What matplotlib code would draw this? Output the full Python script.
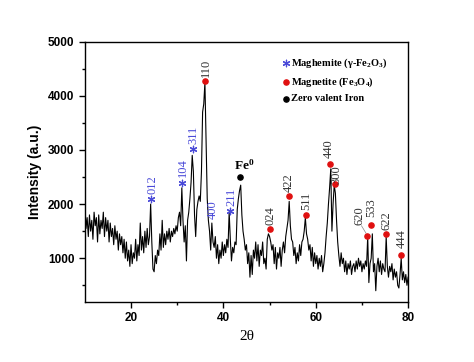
import matplotlib.pyplot as plt
import numpy as np

plt.rcParams['mathtext.fontset'] = 'custom'
plt.rcParams['mathtext.rm'] = 'Liberation Serif'
plt.rcParams['mathtext.bf'] = 'Liberation Serif:bold'
plt.rcParams['mathtext.default'] = 'bf'

# XRD pattern, 2theta from 10 to 80 in 0.25 steps
two_theta = np.arange(10, 80.01, 0.25)
intensity = [
    2050, 1550, 1750, 1400,  # 10
    1800, 1500, 1700, 1350,  # 11
    1850, 1600, 1750, 1300,  # 12
    1800, 1450, 1700, 1550,  # 13
    1850, 1400, 1750, 1500,  # 14
    1700, 1300, 1650, 1400,  # 15
    1550, 1250, 1600, 1350,  # 16
    1500, 1150, 1450, 1250,  # 17
    1400, 1100, 1350, 1000,  # 18
    1300, 950, 1150, 850,    # 19
    1250, 900, 1100, 1000,   # 20
    1350, 950, 1250, 1050,   # 21
    1650, 1150, 1400, 1100,  # 22
    1500, 1200, 1550, 1250,  # 23
    1400, 2000, 1300, 800,   # 24
    750, 1050, 900, 1150,    # 25
    1050, 1450, 1150, 1700,  # 26
    1200, 1450, 1250, 1500,  # 27
    1350, 1550, 1300, 1500,  # 28
    1400, 1550, 1450, 1600,  # 29
    1500, 1750, 1850, 1600,  # 30
    2300, 1700, 1300, 1600,  # 31
    950, 1700, 1850, 2100,   # 32
    2400, 2900, 2600, 1800,  # 33
    1400, 1900, 2050, 2150,  # 34
    2050, 2600, 3700, 3850,  # 35
    4250, 3200, 2100, 1700,  # 36
    1500, 1150, 1650, 1300,  # 37
    1200, 1400, 1000, 1250,  # 38
    900, 1150, 1000, 1300,   # 39
    1050, 1250, 1100, 1350,  # 40
    1200, 1850, 1350, 950,   # 41
    1200, 1100, 1300, 1250,  # 42
    1900, 2100, 2250, 2350,  # 43
    1800, 1500, 1350, 1150,  # 44
    1250, 900, 1100, 650,    # 45
    1050, 700, 1150, 1000,   # 46
    1300, 950, 1250, 850,    # 47
    1150, 1050, 1300, 900,   # 48
    1000, 800, 1350, 1450,   # 49
    1400, 1300, 1150, 1250,  # 50
    900, 1200, 800, 1100,    # 51
    1000, 1200, 850, 1150,   # 52
    1300, 1100, 1400, 1550,  # 53
    1700, 2050, 1600, 1350,  # 54
    1300, 1050, 1200, 900,   # 55
    1100, 950, 1250, 1050,   # 56
    1300, 1350, 1500, 1750,  # 57
    1450, 1350, 1150, 1250,  # 58
    950, 1200, 850, 1100,    # 59
    900, 1050, 800, 1000,    # 60
    850, 1050, 750, 900,     # 61
    1100, 1400, 1650, 2000,  # 62
    2300, 2650, 1500, 2000,  # 63
    2350, 2200, 1700, 1300,  # 64
    1050, 850, 1100, 900,    # 65
    1000, 750, 950, 700,     # 66
    900, 800, 950, 700,      # 67
    850, 900, 750, 950,      # 68
    800, 1000, 850, 950,     # 69
    750, 900, 800, 950,      # 70
    850, 1400, 550, 900,     # 71
    1000, 1450, 750, 900,    # 72
    400, 850, 1000, 750,     # 73
    950, 700, 900, 800,      # 74
    750, 1400, 850, 650,     # 75
    850, 750, 900, 600,      # 76
    800, 650, 750, 500,      # 77
    450, 700, 1000, 600,     # 78
    750, 550, 700, 500,      # 79
    650,                     # 80
]

# phase markers
maghemite_x = [24.25, 30.96, 33.34, 41.41]
maghemite_y = [2090, 2385, 3010, 1874]
maghemite_hkl = ['012', '104', '311', '211']

magnetite_x = [36.08, 50.07, 54.25, 57.85, 63.04, 64.12, 71.12, 72.06, 75.3, 78.4]
magnetite_y = [4280, 1535, 2150, 1794, 2741, 2366, 1418, 1622, 1455, 1068]
magnetite_hkl = ['110', '024', '422', '511', '440', '300', '620', '533', '622', '444']

iron_x = [43.65]
iron_y = [2500]

# label anchors (x, bottom of rotated text)
maghemite_lab = [(24.55, 2190), (31.25, 2500), (33.6, 3110), (41.65, 1970)]
magnetite_lab = [(36.15, 4350), (50.3, 1620), (54.25, 2230), (57.95, 1890), (62.85, 2850),
                 (64.4, 2380), (69.45, 1620), (71.95, 1770), (75.4, 1530), (78.55, 1180)]

blue = '#4a4ad8'
fig = plt.figure(figsize=(4.74, 3.62), dpi=100)
ax = fig.add_axes([0.179, 0.167, 0.682, 0.718])

ax.plot(two_theta, intensity, color='black', linewidth=0.8)

ax.scatter(maghemite_x, maghemite_y, marker=(6, 2, 0), s=22, color=blue, linewidths=0.9,
           zorder=3, label='Maghemite (γ-Fe$_2$O$_3$)')
ax.scatter(magnetite_x, magnetite_y, marker='o', s=14, color='#e01010', zorder=3,
           label='Magnetite (Fe$_3$O$_4$)')
ax.scatter(iron_x, iron_y, marker='o', s=14, color='black', zorder=3, label='Zero valent Iron')

for (lx, ly), t in zip(maghemite_lab, maghemite_hkl):
    ax.text(lx, ly, t, rotation=90, ha='center', va='bottom', color=blue,
            family='Liberation Serif', fontsize=9)
ax.text(37.8, 1720, '400', rotation=90, ha='center', va='bottom', color=blue,
        family='Liberation Serif', fontsize=9)
for (lx, ly), t in zip(magnetite_lab, magnetite_hkl):
    ax.text(lx, ly, t, rotation=90, ha='center', va='bottom', color='#333333',
            family='Liberation Serif', fontsize=9)
ax.plot([69.9, 70.9], [1600, 1460], color='#888888', linewidth=0.5)
ax.text(44.4, 2580, 'Fe$^0$', ha='center', va='bottom', family='Liberation Serif',
        fontweight='bold', fontsize=9.5)

ax.set_xlim(10, 80)
ax.set_ylim(200, 5000)
ax.set_xticks([20, 40, 60, 80])
ax.set_xticks([30, 50, 70], minor=True)
ax.set_yticks([1000, 2000, 3000, 4000, 5000])
ax.set_yticks([500, 1500, 2500, 3500, 4500], minor=True)
ax.tick_params(which='major', length=4, width=1)
ax.tick_params(which='minor', length=2.5, width=1)
for lab in ax.get_xticklabels() + ax.get_yticklabels():
    lab.set_family('Liberation Sans')
    lab.set_fontweight('bold')
    lab.set_fontsize(8.5)
for sp in ax.spines.values():
    sp.set_linewidth(1)

ax.set_ylabel('Intensity (a.u.)', family='Liberation Sans', fontweight='bold', fontsize=10)
ax.set_xlabel('2θ', family='Liberation Serif', fontsize=11)

ax.legend(loc='upper right', frameon=False, bbox_to_anchor=(0.96, 0.97),
          prop={'family': 'Liberation Serif', 'weight': 'bold', 'size': 7.5},
          handletextpad=0.05, handlelength=1.0, labelspacing=0.5, borderaxespad=0.3)

fig.savefig('out.png', dpi=100)
